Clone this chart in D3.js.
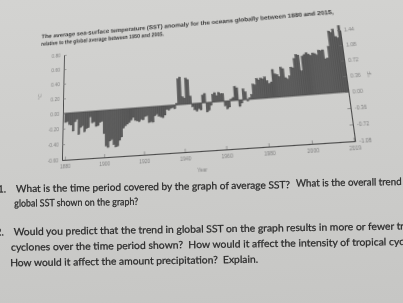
<!DOCTYPE html>
<html>
<head>
<meta charset="utf-8">
<script src="https://cdn.jsdelivr.net/npm/d3@7"></script>
<style>
  html, body { margin: 0; padding: 0; width: 403px; height: 303px; overflow: hidden; }
  body {
    position: relative;
    background: linear-gradient(176deg, #d3d3d1 0%, #cdcdcb 50%, #c6c6c4 100%);
  }
  svg { position: absolute; left: 0; top: 0; }
  #chart { transform-origin: 0 0; }
  .q { white-space: pre; }
</style>
</head>
<body>
<div id="page"></div>
<script>
// ---- data ----
const years = d3.range(1880, 2020);
const anomalyC = [
  -0.12, -0.11, -0.15, -0.16, -0.24, -0.12, -0.09, -0.29, -0.20, -0.18,
  -0.26, -0.22, -0.21, -0.07, -0.15, -0.14, -0.20, -0.19, -0.15, -0.14,
  -0.30, -0.46, -0.48, -0.40, -0.38, -0.45, -0.48, -0.47, -0.40, -0.36,
  -0.25, -0.22, -0.20, -0.18, -0.15, -0.12, -0.16, -0.17, -0.18, -0.15,
  -0.16, -0.12, -0.11, -0.20, -0.19, -0.20, -0.12, -0.10, -0.13, -0.14,
  -0.15, -0.12, -0.05, -0.06, -0.04, -0.03, -0.05, 0.02, 0.34, 0.36,
  0.10, 0.08, 0.34, 0.32, 0.10, -0.04, -0.08, -0.10, -0.07, -0.09,
  0.10, 0.12, -0.12, -0.10, -0.04, 0.10, 0.12, 0.08, 0.12, 0.10,
  0.10, -0.06, -0.10, -0.08, 0.02, 0.04, 0.18, 0.16, -0.08, -0.04,
  0.14, 0.10, -0.02, 0.02, 0.06, 0.19, 0.18, 0.26, 0.24, 0.26,
  0.25, 0.27, 0.22, 0.18, 0.20, 0.36, 0.30, 0.29, 0.26, 0.38,
  0.36, 0.24, 0.22, 0.26, 0.37, 0.36, 0.48, 0.53, 0.52, 0.31,
  0.50, 0.52, 0.54, 0.52, 0.50, 0.53, 0.52, 0.50, 0.56, 0.55,
  0.56, 0.44, 0.45, 0.60, 0.80, 0.78, 0.82, 0.72, 0.70, 0.86
];
const ticksC = [-0.6, -0.4, -0.2, 0, 0.2, 0.4, 0.6, 0.8];
const ticksF = [-1.08, -0.72, -0.36, 0, 0.36, 0.72, 1.08, 1.44];
const yearTicks = [1880, 1900, 1920, 1940, 1960, 1980, 2000, 2019];
const titleLines = [
  'The average sea-surface temperature (SST) anomaly for the oceans globally between 1880 and 2015,',
  'relative to the global average between 1950 and 2005.'
];
const questions = [
  { t: '1.', x: -2, y: 192.5 },
  { t: 'What is the time period covered by the graph of average SST?', x: 16, y: 192.5, len: 274 },
  { t: 'What is the overall trend in', x: 296, y: 191, len: 116 },
  { t: 'global SST shown on the graph?', x: 14, y: 207, len: 124 },
  { t: '2.', x: -5, y: 235.5 },
  { t: 'Would you predict that the trend in global SST on the graph results in more or fewer tropical', x: 13, y: 235.5, len: 417 },
  { t: 'cyclones over the time period shown?  How would it affect the intensity of tropical cyclones?', x: 10, y: 251, len: 422 },
  { t: 'How would it affect the amount precipitation?  Explain.', x: 9, y: 266.5, len: 248 }
];

const width = 403, height = 303;
const plot = { left: 64, top: 55, width: 290, height: 105 };
const font = '"Liberation Sans", Arial, sans-serif';

const page = d3.select('#page');

// ---- chart, drawn flat, then warped like the photo ----
const svg = page.append('svg')
  .attr('id', 'chart')
  .attr('width', width)
  .attr('height', height);

const g = svg.append('g')
  .attr('transform', `translate(${plot.left},${plot.top})`);

const x = d3.scaleLinear().domain([1878.5, 2019.5]).range([0, plot.width]);
const y = d3.scaleLinear().domain([-0.6, 0.8]).range([plot.height, 0]);
const yF = d3.scaleLinear().domain([-1.08, 1.44]).range([plot.height, 0]);
const bw = x(1) - x(0);

g.append('g')
  .selectAll('rect')
  .data(years.map((yr, i) => ({ yr, v: anomalyC[i] })))
  .join('rect')
  .attr('x', d => x(d.yr - 0.5))
  .attr('width', bw)
  .attr('y', d => y(Math.max(0, d.v)))
  .attr('height', d => Math.abs(y(d.v) - y(0)))
  .attr('fill', '#5d5d5d')
  .attr('stroke', '#404040')
  .attr('stroke-width', 0.35);

g.append('line')
  .attr('x1', 0).attr('x2', plot.width)
  .attr('y1', y(0)).attr('y2', y(0))
  .attr('stroke', '#555')
  .attr('stroke-width', 0.7);

function styleAxis(sel) {
  sel.attr('font-family', font).attr('font-size', 5);
  sel.select('.domain').attr('stroke', '#4a4a4a').attr('stroke-width', 1);
  sel.selectAll('.tick line').attr('stroke', '#6f6f6f').attr('stroke-width', 0.6);
  sel.selectAll('.tick text').attr('fill', '#828282');
}

g.append('g')
  .call(d3.axisLeft(y).tickValues(ticksC).tickFormat(d => d.toFixed(2))
    .tickSizeInner(-3).tickSizeOuter(0).tickPadding(4))
  .call(styleAxis);

g.append('g')
  .attr('transform', `translate(${plot.width},0)`)
  .call(d3.axisRight(yF).tickValues(ticksF).tickFormat(d => d.toFixed(2))
    .tickSizeInner(-3).tickSizeOuter(0).tickPadding(4))
  .call(styleAxis);

g.append('g')
  .attr('transform', `translate(0,${plot.height})`)
  .call(d3.axisBottom(x).tickValues(yearTicks).tickFormat(d3.format('d'))
    .tickSizeInner(-3).tickSizeOuter(0).tickPadding(4))
  .call(styleAxis);

g.append('text')
  .attr('transform', `translate(-24,${y(0.25)}) rotate(-90)`)
  .attr('text-anchor', 'middle')
  .attr('font-family', font).attr('font-size', 5.5)
  .attr('fill', '#828282')
  .text('°C');

g.append('text')
  .attr('transform', `translate(${plot.width + 24},${y(0.2)}) rotate(-90)`)
  .attr('text-anchor', 'middle')
  .attr('font-family', font).attr('font-size', 5.5)
  .attr('fill', '#828282')
  .text('°F');

g.append('text')
  .attr('x', x(1948))
  .attr('y', plot.height + 19)
  .attr('text-anchor', 'middle')
  .attr('font-family', font).attr('font-size', 5)
  .attr('fill', '#828282')
  .text('Year');

svg.append('g')
  .attr('transform', 'rotate(0.6 38 35)')
  .selectAll('text')
  .data(titleLines)
  .join('text')
  .attr('x', 38)
  .attr('y', (d, i) => 35 + i * 8)
  .attr('textLength', (d, i) => i === 0 ? 312 : 136)
  .attr('lengthAdjust', 'spacingAndGlyphs')
  .attr('font-family', font).attr('font-size', 6).attr('font-weight', 'bold')
  .attr('fill', '#3a3a3a')
  .text(d => d);

// perspective of the photo: map the flat plot corners onto where they sit in the picture
function homography(src, dst) {
  const A = [];
  for (let i = 0; i < 4; i++) {
    const [sx, sy] = src[i], [dx, dy] = dst[i];
    A.push([sx, sy, 1, 0, 0, 0, -sx * dx, -sy * dx, dx]);
    A.push([0, 0, 0, sx, sy, 1, -sx * dy, -sy * dy, dy]);
  }
  for (let c = 0; c < 8; c++) {
    let p = c;
    for (let r = c + 1; r < 8; r++) if (Math.abs(A[r][c]) > Math.abs(A[p][c])) p = r;
    [A[c], A[p]] = [A[p], A[c]];
    for (let r = 0; r < 8; r++) {
      if (r === c) continue;
      const f = A[r][c] / A[c][c];
      for (let k = c; k < 9; k++) A[r][k] -= f * A[c][k];
    }
  }
  return A.map((row, i) => row[8] / row[i]);
}

const L = plot.left, T = plot.top, R = plot.left + plot.width, B = plot.top + plot.height;
const h = homography(
  [[L, T], [L, B], [R, B], [R, T]],
  [[64, 55], [62, 160], [355, 141], [340, 30]]
);
svg.style('transform',
  `matrix3d(${h[0]},${h[3]},0,${h[6]},${h[1]},${h[4]},0,${h[7]},0,0,1,0,${h[2]},${h[5]},0,1)`);

// ---- worksheet questions under the chart ----
const qsvg = page.append('svg')
  .attr('width', width)
  .attr('height', height);

qsvg.append('g')
  .attr('transform', 'rotate(-0.85 0 190)')
  .selectAll('text')
  .data(questions)
  .join('text')
  .attr('class', 'q')
  .attr('x', d => d.x)
  .attr('y', d => d.y)
  .attr('textLength', d => d.len || null)
  .attr('lengthAdjust', 'spacingAndGlyphs')
  .attr('font-family', 'Lato, "Open Sans", sans-serif')
  .attr('font-size', 10)
  .attr('fill', '#2a2a2a')
  .attr('stroke', '#2a2a2a')
  .attr('stroke-width', 0.25)
  .text(d => d.t);
</script>
</body>
</html>
